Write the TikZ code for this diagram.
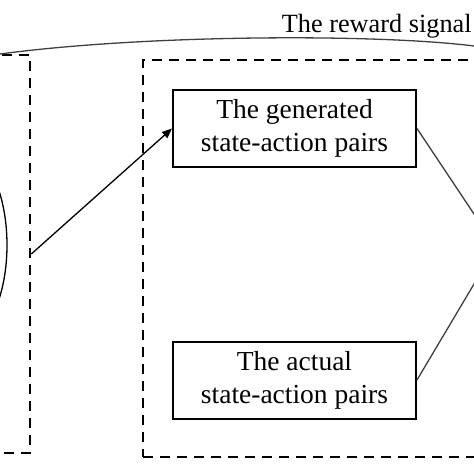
\documentclass[tikz,border=0pt]{standalone}
\usepackage{fontspec}
\setmainfont{Liberation Serif}
\usetikzlibrary{positioning}
\usetikzlibrary{arrows.meta}
\usetikzlibrary{shapes.geometric}

\begin{document}
\begin{tikzpicture}[
            x = 1pt, y = -1pt, % pixel grid, origin top left
            > = {Triangle[length=10pt,width=8pt]}, % arrow head style
            node distance = 251.5pt, % distance between the two boxes
            semithick % line style
        ]

        \tikzstyle{pairbox}=[
            draw,
            line width = 2pt,
            fill = white,
            minimum width = 243pt,
            minimum height = 77pt,
            align = center,
            inner sep = 0pt,
            font = \fontsize{27.5}{33}\selectfont
        ]
        \tikzstyle{dashbox}=[
            draw,
            line width = 2.6pt,
            dash pattern = on 10pt off 7pt
        ]
        \tikzstyle{link}=[draw = black!75, line width = 1.3pt]

        \useasboundingbox (0,0) rectangle (474,474);
        \clip (0,0) rectangle (474,474);

        % generator side, cut off at the left
        \node[dashbox, minimum width = 230pt, minimum height = 398pt] (genbox) at (-85,254) {};
        \node[draw, ellipse, line width = 1.3pt, minimum width = 100pt, minimum height = 200pt] (gen) at (-43,245) {};

        % state-action pairs
        \node[pairbox] (gsap) at (294.5,128.5) {The generated\\state-action pairs};
        \node[pairbox] (asap) [below of = gsap] {The actual\\state-action pairs};
        \node[dashbox, minimum width = 457pt, minimum height = 397pt] (discbox) at (371.5,258.5) {};

        % input of the discriminator, off the right edge
        \coordinate (disc) at (496,247);

        \path[->, draw, line width = 1.3pt] (genbox.east) -- (gsap.west);
        \draw[link] (gsap.east) -- (disc);
        \draw[link] (asap.east) -- (disc);

        % reward signal fed back
        \coordinate (rwR) at (474,46);
        \coordinate (rwL) at (0,54);
        \draw[link] (rwR) .. controls (380,34) and (150,34) .. (rwL);
        \node[anchor = base east, inner sep = 0pt, font = \fontsize{26.3}{32}\selectfont] (reward) at (472,32) {The reward signal};

\end{tikzpicture}
\end{document}
